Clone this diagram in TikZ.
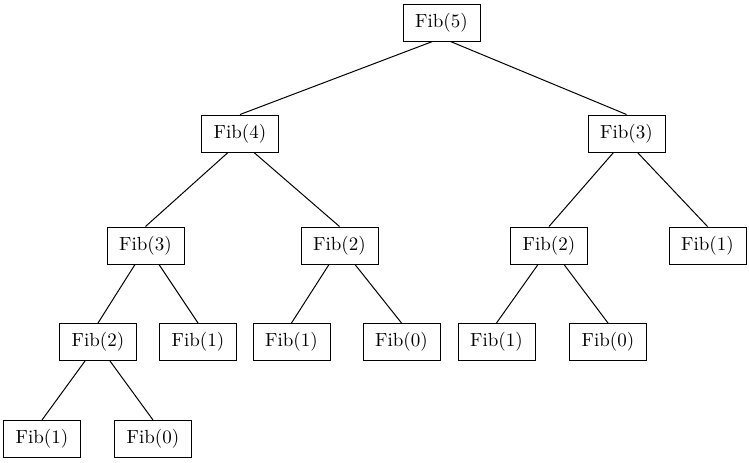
\documentclass[tikz,border=0pt]{standalone}
\usepackage{tikz}
\tikzset{fib/.style={draw, minimum width=38.5pt, minimum height=18.5pt, inner sep=0pt, font=\fontsize{9.5}{11}\selectfont}}

\begin{document}
\begin{tikzpicture}[x=0.5pt, y=-0.5pt, line width=0.5pt]
				\useasboundingbox (0,0) rectangle (749,462);
				% levels
				\node[fib] (a) at (441.5,22.5) {Fib(5)};
				\node[fib] (al) at (240,133.5) {Fib(4)};
				\node[fib] (ar) at (626.5,133.5) {Fib(3)};
				\node[fib] (all) at (145.5,245.5) {Fib(3)};
				\node[fib] (alr) at (339.5,245.5) {Fib(2)};
				\node[fib] (arl) at (549,245.5) {Fib(2)};
				\node[fib] (arr) at (707.5,245.5) {Fib(1)};
				\node[fib] (alll) at (98,342) {Fib(2)};
				\node[fib] (allr) at (198,342) {Fib(1)};
				\node[fib] (alrl) at (291.5,342) {Fib(1)};
				\node[fib] (alrr) at (401.5,342) {Fib(0)};
				\node[fib] (arll) at (496.5,342) {Fib(1)};
				\node[fib] (arlr) at (608,342) {Fib(0)};
				\node[fib] (allll) at (42,439) {Fib(1)};
				\node[fib] (alllr) at (153,439) {Fib(0)};
				% edges
				\draw ([xshift=-4.5pt]a.south) -- (al.north);
				\draw ([xshift=4.5pt]a.south) -- (ar.north);
				\draw ([xshift=-6pt]al.south) -- (all.north);
				\draw ([xshift=7pt]al.south) -- (alr.north);
				\draw ([xshift=-6.5pt]ar.south) -- (arl.north);
				\draw ([xshift=5.5pt]ar.south) -- (arr.north);
				\draw ([xshift=-5.25pt]all.south) -- (alll.north);
				\draw ([xshift=6.75pt]all.south) -- (allr.north);
				\draw ([xshift=-5.25pt]alr.south) -- (alrl.north);
				\draw ([xshift=7.75pt]alr.south) -- (alrr.north);
				\draw ([xshift=-5.5pt]arl.south) -- (arll.north);
				\draw ([xshift=7.5pt]arl.south) -- (arlr.north);
				\draw ([xshift=-6.5pt]alll.south) -- (allll.north);
				\draw ([xshift=6pt]alll.south) -- (alllr.north);
			\end{tikzpicture}
\end{document}
